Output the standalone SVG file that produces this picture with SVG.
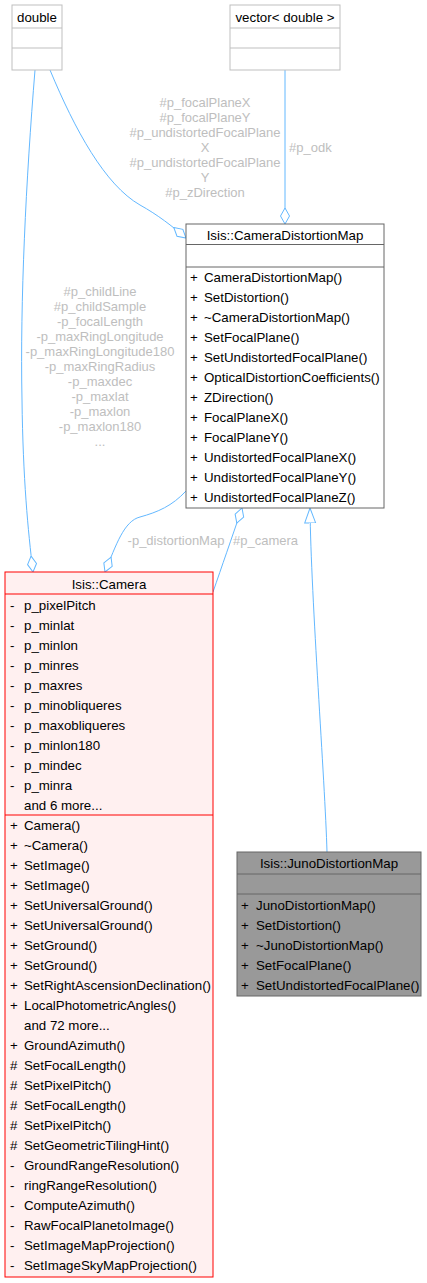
<svg xmlns="http://www.w3.org/2000/svg" width="427" height="1283" viewBox="0 0 427 1283">
<style>
text{font-family:"Liberation Sans",Arial,Helvetica,sans-serif;font-size:13.3px;fill:#000}
.c{text-anchor:middle}
text.lbl{fill:#BEBEBE;font-size:13px}
.ext{fill:#fff;stroke:#BFBFBF;stroke-width:1}
.nrm{fill:#fff;stroke:#666;stroke-width:1}
.trunc{fill:#FFF0F0;stroke:#f00;stroke-width:1}
.cur{fill:#999;stroke:#666;stroke-width:1}
.e{fill:none;stroke:#63B8FF;stroke-width:1}
</style>
<defs>
<marker id="dia" markerUnits="userSpaceOnUse" markerWidth="18" markerHeight="11" refX="16.5" refY="5" orient="auto" viewBox="0 0 18 10">
<path d="M0.5,5 L8.5,0.5 L16.5,5 L8.5,9.5 Z" fill="#fff" stroke="#63B8FF" stroke-width="1"/>
</marker>
<marker id="tri" markerUnits="userSpaceOnUse" markerWidth="17" markerHeight="13" refX="15.5" refY="6" orient="auto" viewBox="0 0 17 12">
<path d="M0.5,0.5 L15.5,6 L0.5,11.5 Z" fill="#fff" stroke="#63B8FF" stroke-width="1"/>
</marker>
</defs>

<g id="edges">
<path class="e" d="M50,70 C75,130 105,185 140,205 C158,215 172,226 186,238" marker-end="url(#dia)"/>
<path class="e" d="M285,70 L285,224" marker-end="url(#dia)"/>
<path class="e" d="M35,70 C26,180 20,300 22,400 C23,480 28,530 33,572" marker-end="url(#dia)"/>
<path class="e" d="M186,491 C172,506 158,512 140,517 C124,521 116,545 105,572" marker-end="url(#dia)"/>
<path class="e" d="M213,592 C222,566 231,540 242,508" marker-end="url(#dia)"/>
<path class="e" d="M327,852 C325,780 311,600 310,508" marker-end="url(#tri)"/>
<g>
<text class="c lbl" x="205" y="106.5">#p_focalPlaneX</text>
<text class="c lbl" x="205" y="121.5">#p_focalPlaneY</text>
<text class="c lbl" x="205" y="136.5">#p_undistortedFocalPlane</text>
<text class="c lbl" x="205" y="151.5">X</text>
<text class="c lbl" x="205" y="166.5">#p_undistortedFocalPlane</text>
<text class="c lbl" x="205" y="181.5">Y</text>
<text class="c lbl" x="205" y="196.5">#p_zDirection</text>
<text class="lbl" x="289" y="151.5">#p_odk</text>
<text class="c lbl" x="100" y="296">#p_childLine</text>
<text class="c lbl" x="100" y="311">#p_childSample</text>
<text class="c lbl" x="100" y="326">-p_focalLength</text>
<text class="c lbl" x="100" y="341">-p_maxRingLongitude</text>
<text class="c lbl" x="100" y="356">-p_maxRingLongitude180</text>
<text class="c lbl" x="100" y="371">-p_maxRingRadius</text>
<text class="c lbl" x="100" y="386">-p_maxdec</text>
<text class="c lbl" x="100" y="401">-p_maxlat</text>
<text class="c lbl" x="100" y="416">-p_maxlon</text>
<text class="c lbl" x="100" y="431">-p_maxlon180</text>
<text class="c lbl" x="100" y="446">...</text>
<text class="c lbl" x="176" y="545">-p_distortionMap</text>
<text class="lbl" x="233" y="545">#p_camera</text>
</g>
</g>

<g id="node-double">
<rect class="ext" x="12" y="5" width="50" height="65"/>
<line class="ext" x1="12" y1="28" x2="62" y2="28"/>
<line class="ext" x1="12" y1="48" x2="62" y2="48"/>
<text class="c" x="37" y="21.5">double</text>
</g>

<g id="node-vector">
<rect class="ext" x="230" y="5" width="110" height="65"/>
<line class="ext" x1="230" y1="28" x2="340" y2="28"/>
<line class="ext" x1="230" y1="48" x2="340" y2="48"/>
<text class="c" x="285" y="21.5">vector&lt; double &gt;</text>
</g>

<g id="node-CameraDistortionMap">
<rect class="nrm" x="186" y="224" width="198" height="284"/>
<line class="nrm" x1="186" y1="244.5" x2="384" y2="244.5"/>
<line class="nrm" x1="186" y1="267" x2="384" y2="267"/>
<text class="c" x="285" y="239.5">Isis::CameraDistortionMap</text>
<text x="190" y="281.5">+<tspan x="204">CameraDistortionMap()</tspan></text>
<text x="190" y="301.5">+<tspan x="204">SetDistortion()</tspan></text>
<text x="190" y="321.5">+<tspan x="204">~CameraDistortionMap()</tspan></text>
<text x="190" y="341.5">+<tspan x="204">SetFocalPlane()</tspan></text>
<text x="190" y="361.5">+<tspan x="204">SetUndistortedFocalPlane()</tspan></text>
<text x="190" y="381.5">+<tspan x="204">OpticalDistortionCoefficients()</tspan></text>
<text x="190" y="401.5">+<tspan x="204">ZDirection()</tspan></text>
<text x="190" y="421.5">+<tspan x="204">FocalPlaneX()</tspan></text>
<text x="190" y="441.5">+<tspan x="204">FocalPlaneY()</tspan></text>
<text x="190" y="461.5">+<tspan x="204">UndistortedFocalPlaneX()</tspan></text>
<text x="190" y="481.5">+<tspan x="204">UndistortedFocalPlaneY()</tspan></text>
<text x="190" y="501.5">+<tspan x="204">UndistortedFocalPlaneZ()</tspan></text>
</g>

<g id="node-Camera">
<rect class="trunc" x="5" y="572" width="208" height="705"/>
<line class="trunc" x1="5" y1="594" x2="213" y2="594"/>
<line class="trunc" x1="5" y1="815" x2="213" y2="815"/>
<text class="c" x="109" y="588.5">Isis::Camera</text>
<text x="10" y="609.5">-<tspan x="24">p_pixelPitch</tspan></text>
<text x="10" y="629.5">-<tspan x="24">p_minlat</tspan></text>
<text x="10" y="649.5">-<tspan x="24">p_minlon</tspan></text>
<text x="10" y="669.5">-<tspan x="24">p_minres</tspan></text>
<text x="10" y="689.5">-<tspan x="24">p_maxres</tspan></text>
<text x="10" y="709.5">-<tspan x="24">p_minobliqueres</tspan></text>
<text x="10" y="729.5">-<tspan x="24">p_maxobliqueres</tspan></text>
<text x="10" y="749.5">-<tspan x="24">p_minlon180</tspan></text>
<text x="10" y="769.5">-<tspan x="24">p_mindec</tspan></text>
<text x="10" y="789.5">-<tspan x="24">p_minra</tspan></text>
<text x="24" y="809.5">and 6 more...</text>
<text x="10" y="829.5">+<tspan x="24">Camera()</tspan></text>
<text x="10" y="849.5">+<tspan x="24">~Camera()</tspan></text>
<text x="10" y="869.5">+<tspan x="24">SetImage()</tspan></text>
<text x="10" y="889.5">+<tspan x="24">SetImage()</tspan></text>
<text x="10" y="909.5">+<tspan x="24">SetUniversalGround()</tspan></text>
<text x="10" y="929.5">+<tspan x="24">SetUniversalGround()</tspan></text>
<text x="10" y="949.5">+<tspan x="24">SetGround()</tspan></text>
<text x="10" y="969.5">+<tspan x="24">SetGround()</tspan></text>
<text x="10" y="989.5">+<tspan x="24">SetRightAscensionDeclination()</tspan></text>
<text x="10" y="1009.5">+<tspan x="24">LocalPhotometricAngles()</tspan></text>
<text x="24" y="1029.5">and 72 more...</text>
<text x="10" y="1049.5">+<tspan x="24">GroundAzimuth()</tspan></text>
<text x="10" y="1069.5">#<tspan x="24">SetFocalLength()</tspan></text>
<text x="10" y="1089.5">#<tspan x="24">SetPixelPitch()</tspan></text>
<text x="10" y="1109.5">#<tspan x="24">SetFocalLength()</tspan></text>
<text x="10" y="1129.5">#<tspan x="24">SetPixelPitch()</tspan></text>
<text x="10" y="1149.5">#<tspan x="24">SetGeometricTilingHint()</tspan></text>
<text x="10" y="1169.5">-<tspan x="24">GroundRangeResolution()</tspan></text>
<text x="10" y="1189.5">-<tspan x="24">ringRangeResolution()</tspan></text>
<text x="10" y="1209.5">-<tspan x="24">ComputeAzimuth()</tspan></text>
<text x="10" y="1229.5">-<tspan x="24">RawFocalPlanetoImage()</tspan></text>
<text x="10" y="1249.5">-<tspan x="24">SetImageMapProjection()</tspan></text>
<text x="10" y="1269.5">-<tspan x="24">SetImageSkyMapProjection()</tspan></text>
</g>

<g id="node-JunoDistortionMap">
<rect class="cur" x="237" y="852" width="184" height="144"/>
<line class="cur" x1="237" y1="874" x2="421" y2="874"/>
<line class="cur" x1="237" y1="894" x2="421" y2="894"/>
<text class="c" x="329" y="867.5">Isis::JunoDistortionMap</text>
<text x="241" y="909.5">+<tspan x="256">JunoDistortionMap()</tspan></text>
<text x="241" y="929.5">+<tspan x="256">SetDistortion()</tspan></text>
<text x="241" y="949.5">+<tspan x="256">~JunoDistortionMap()</tspan></text>
<text x="241" y="969.5">+<tspan x="256">SetFocalPlane()</tspan></text>
<text x="241" y="989.5">+<tspan x="256">SetUndistortedFocalPlane()</tspan></text>
</g>
</svg>
